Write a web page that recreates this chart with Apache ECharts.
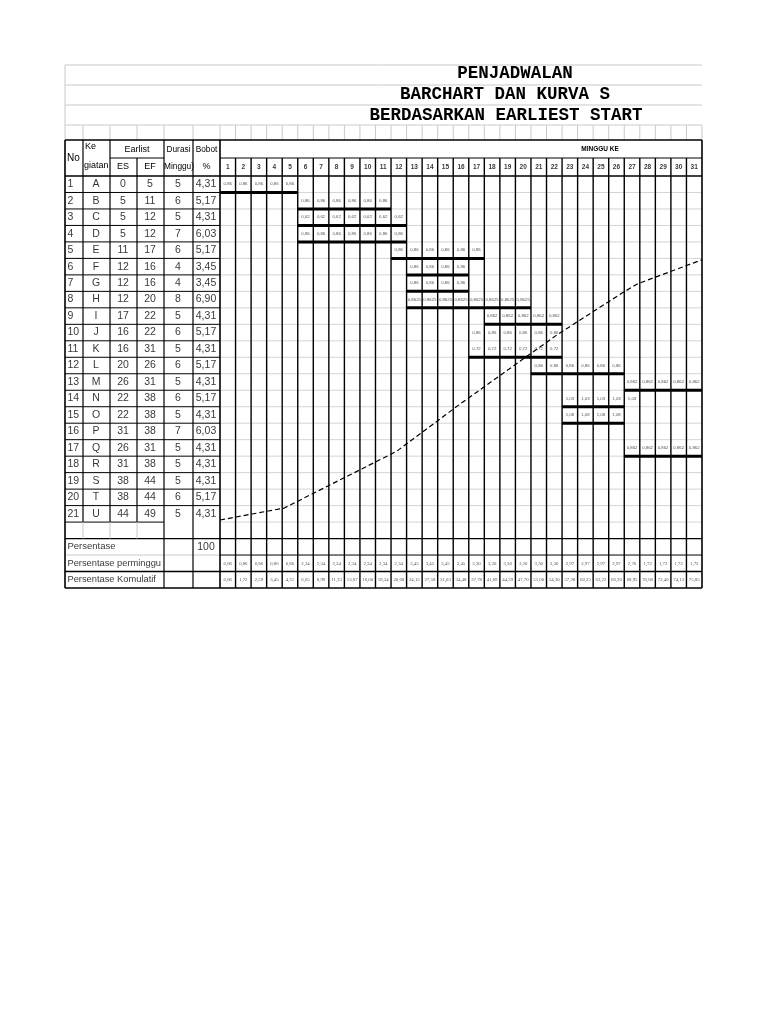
<!DOCTYPE html>
<html>
<head>
<meta charset="utf-8">
<script src="https://cdn.jsdelivr.net/npm/echarts@6/dist/echarts.min.js"></script>
<style>html,body{margin:0;padding:0;background:#fff}#c{width:768px;height:1024px}</style>
</head>
<body>
<div id="c"></div>
<script>
// ---------------- DATA ----------------
const weeks = ['1','2','3','4','5','6','7','8','9','10','11','12','13','14','15','16','17','18','19','20','21','22','23','24','25','26','27','28','29','30','31'];
const noList = ['1','2','3','4','5','6','7','8','9','10','11','12','13','14','15','16','17','18','19','20','21'];
const kegiatan = ['A','B','C','D','E','F','G','H','I','J','K','L','M','N','O','P','Q','R','S','T','U'];
const esList = [0,5,5,5,11,12,12,12,17,16,16,20,26,22,22,31,26,31,38,38,44];
const efList = [5,11,12,12,17,16,16,20,22,22,31,26,31,38,38,38,31,38,44,44,49];
const durasiList = [5,6,5,7,6,4,4,8,5,6,5,6,5,6,5,7,5,5,5,6,5];
const bobotList = ['4,31','5,17','4,31','6,03','5,17','3,45','3,45','6,90','4,31','5,17','4,31','5,17','4,31','5,17','4,31','6,03','4,31','4,31','4,31','5,17','4,31'];
const totalBobot = '100';
// bar (thick line) week ranges per activity
const barFrom = [1,6,6,6,12,13,13,13,18,null,17,21,27,23,23,null,27,null,null,null,null];
const barTo   = [5,11,12,12,17,16,16,20,22,null,22,26,31,26,26,null,31,null,null,null,null];
// weekly weight text inside the cells
const cellFrom = [1,6,6,6,12,13,13,13,18,17,17,21,27,23,23,null,27,null,null,null,null];
const cellTo   = [5,11,12,12,17,16,16,20,22,22,22,26,31,27,26,null,31,null,null,null,null];
const cellText = ['0,86','0,86','0,62','0,86','0,86','0,86','0,86','0,8625','0,862','0,86','0,72','0,86','0,862','1,03','1,08','','0,862','','','',''];
// percentages per week and cumulative
const perminggu = [0.86,0.86,0.86,0.86,0.86,2.34,2.34,2.34,2.34,2.34,2.34,2.34,3.45,3.45,3.45,3.45,3.30,3.30,3.30,3.30,3.30,3.30,2.97,2.97,2.97,2.97,2.76,1.72,1.72,1.72,1.72];
const kumulatif = [0.86,1.72,2.59,3.45,4.31,6.65,8.99,11.33,13.67,16.00,18.34,20.68,24.13,27.58,31.03,34.48,37.78,41.09,44.39,47.70,51.00,54.30,57.28,60.25,63.22,66.20,68.95,70.68,72.40,74.13,75.85];

// ---------------- LAYOUT ----------------
const L = 65, R = 702, WL = 220;
const TOP_T = 65, HDR1 = 140, HDR2 = 158, ROW0 = 176, BOT = 588;
const NROWS = 25;
const rowH = (BOT - ROW0) / NROWS;
const weekW = (R - WL) / 31;
const colEdges = [65, 83, 110, 137, 164, 193, 220];
const colPos = {no: 2, keg: 31, es: 58, ef: 85, dur: 113, bob: 141}; // within left grid (0..155)
const rowKeys = kegiatan.concat(['_blank', '_pers', '_pm', '_pk']);
const fmt = v => v.toFixed(2).replace('.', ',');
const SANS = '"Liberation Sans", Arial, sans-serif';
const SERIF = '"Liberation Serif", "Times New Roman", serif';

// ---------------- STRUCTURAL LINES ----------------
const G = [];
const gray = '#c9c9c9';
function ln(x1, y1, x2, y2, c, w) {
  G.push({type: 'line', silent: true, z: 0, shape: {x1, y1, x2, y2}, style: {stroke: c, lineWidth: w}});
}
[65, 85, 105, 125].forEach(y => ln(L, y, R, y, gray, 1));
ln(L, TOP_T, L, HDR1, gray, 1);
colEdges.slice(1).forEach(x => ln(x, 125, x, HDR1, gray, 1));
for (let k = 1; k <= 31; k++) ln(WL + k * weekW, 125, WL + k * weekW, HDR1, gray, 1);

ln(L, HDR1, R, HDR1, '#000', 1.5);
ln(110, HDR2, 164, HDR2, '#000', 1);
ln(WL, HDR2, R, HDR2, '#000', 1);
ln(L, ROW0, R, ROW0, '#000', 1.5);
const yRow = i => ROW0 + i * rowH;
for (let i = 1; i <= 20; i++) {
  ln(WL, yRow(i), R, yRow(i), '#d4d4d4', 1);
  ln(L, yRow(i), WL, yRow(i), '#000', 1);
}
ln(WL, yRow(21), R, yRow(21), '#d4d4d4', 1);
ln(L, yRow(21), 164, yRow(21), '#000', 1);
ln(L, yRow(22), R, yRow(22), '#000', 1.3);
ln(L, yRow(23), WL, yRow(23), gray, 1);
ln(WL, yRow(23), R, yRow(23), '#000', 1);
ln(L, yRow(24), R, yRow(24), '#000', 1.3);
ln(L, yRow(25), R, yRow(25), '#000', 1.6);
// verticals
ln(L, HDR1, L, BOT, '#000', 1.6);
[83, 110].forEach(x => { ln(x, HDR1, x, yRow(21), '#000', 1.2); ln(x, yRow(21), x, yRow(22), gray, 1); });
ln(137, HDR2, 137, yRow(21), '#000', 1.2); ln(137, yRow(21), 137, yRow(22), gray, 1);
[164, 193].forEach(x => ln(x, HDR1, x, BOT, '#000', 1.2));
ln(WL, HDR1, WL, BOT, '#000', 1.6);
for (let k = 1; k <= 30; k++) ln(WL + k * weekW, HDR2, WL + k * weekW, BOT, '#000', 1.4);
ln(R, HDR1, R, BOT, '#000', 1.6);

// ---------------- STATIC TEXT ----------------
function tx(text, x, y, font, align) {
  G.push({type: 'text', silent: true, z: 3, x: x, y: y,
    style: {text: text, font: font, fill: '#000', textAlign: align || 'center', align: align || 'center',
            textVerticalAlign: 'middle', verticalAlign: 'middle'}});
}
const TF = 'bold 17.5px "Liberation Mono", "Courier New", monospace';
tx('PENJADWALAN', 515, 74, TF);
tx('BARCHART DAN KURVA S', 505, 95, TF);
tx('BERDASARKAN EARLIEST START', 506, 115.5, TF);
const HF = '9px ' + SANS;
const HS = '8.3px ' + SANS;
tx('No', 67, 158, '10px ' + SANS, 'left');
tx('Ke', 85, 147, HF, 'left');
tx('giatan', 84, 166, HF, 'left');
tx('Earlist', 137, 150, HF);
tx('ES', 123, 167, HF);
tx('EF', 150, 167, HF);
tx('Durasi', 178.5, 150, HS);
tx('Minggu)', 179, 167, HS);
tx('Bobot', 206.5, 150, HS);
tx('%', 206.5, 167, HF);
tx('MINGGU KE', 600, 149, 'bold 6.5px ' + SANS);

// ---------------- SERIES DATA ----------------
const barData = [];
kegiatan.forEach((k, i) => { if (barFrom[i] != null) barData.push([barFrom[i] - 1, barTo[i] - 1, i]); });
const cellData = [];
kegiatan.forEach((k, i) => {
  if (cellFrom[i] != null) for (let w = cellFrom[i]; w <= cellTo[i]; w++) cellData.push([w - 1, i, cellText[i]]);
});
const pctData = [];
weeks.forEach((w, j) => {
  pctData.push([j, 23, fmt(perminggu[j])]);
  pctData.push([j, 24, fmt(kumulatif[j])]);
});
const leftData = [];
const L_LEFT = {position: 'right', distance: 0};
kegiatan.forEach((k, i) => {
  leftData.push({value: [colPos.no, i, noList[i]], label: L_LEFT});
  leftData.push({value: [colPos.keg, i, k]});
  leftData.push({value: [colPos.es, i, String(esList[i])]});
  leftData.push({value: [colPos.ef, i, String(efList[i])]});
  leftData.push({value: [colPos.dur, i, String(durasiList[i])]});
  leftData.push({value: [colPos.bob, i, bobotList[i]]});
});
leftData.push({value: [colPos.no, 22, 'Persentase'], label: Object.assign({fontSize: 9.5}, L_LEFT)});
leftData.push({value: [colPos.bob, 22, totalBobot]});
leftData.push({value: [colPos.no, 23, 'Persentase perminggu'], label: Object.assign({fontSize: 9.3}, L_LEFT)});
leftData.push({value: [colPos.no, 24, 'Persentase Komulatif'], label: Object.assign({fontSize: 9.3}, L_LEFT)});
const weekNumData = weeks.map((w, j) => [j, 0, w]);

const labelOnly = {symbol: 'rect', symbolSize: 1, itemStyle: {color: 'rgba(0,0,0,0)'}, silent: true, animation: false};

const chart = echarts.init(document.getElementById('c'), null, {renderer: 'canvas'});
chart.setOption({
  backgroundColor: '#fff',
  animation: false,
  grid: [
    {left: WL, top: ROW0, width: R - WL, height: BOT - ROW0},
    {left: WL, top: ROW0, width: R - WL, height: 347},
    {left: L, top: ROW0, width: WL - L, height: BOT - ROW0},
    {left: WL, top: HDR2, width: R - WL, height: ROW0 - HDR2}
  ],
  xAxis: [
    {gridIndex: 0, type: 'category', data: weeks, show: false},
    {gridIndex: 1, type: 'category', data: weeks, boundaryGap: false, show: false},
    {gridIndex: 2, type: 'value', min: 0, max: WL - L, show: false},
    {gridIndex: 3, type: 'category', data: weeks, show: false}
  ],
  yAxis: [
    {gridIndex: 0, type: 'category', data: rowKeys, inverse: true, show: false},
    {gridIndex: 1, type: 'value', min: 0, max: 100, show: false},
    {gridIndex: 2, type: 'category', data: rowKeys, inverse: true, show: false},
    {gridIndex: 3, type: 'category', data: ['n'], show: false}
  ],
  graphic: {elements: G},
  series: [
    {
      type: 'custom', xAxisIndex: 0, yAxisIndex: 0, z: 4, silent: true,
      encode: {x: [0, 1], y: 2},
      data: barData,
      renderItem: function (params, api) {
        const s = api.value(0), e = api.value(1), r = api.value(2);
        const p1 = api.coord([s, r]), p2 = api.coord([e, r]);
        const sz = api.size([1, 1]);
        const y = p1[1] + sz[1] / 2;
        return {type: 'line', shape: {x1: p1[0] - sz[0] / 2, y1: y, x2: p2[0] + sz[0] / 2, y2: y},
                style: {stroke: '#000', lineWidth: 3}};
      }
    },
    Object.assign({
      type: 'scatter', xAxisIndex: 0, yAxisIndex: 0, z: 3, data: cellData,
      label: {show: true, position: 'inside', formatter: p => p.value[2], fontSize: 4.3, fontFamily: SANS, color: '#222'}
    }, labelOnly),
    Object.assign({
      type: 'scatter', xAxisIndex: 0, yAxisIndex: 0, z: 3, data: pctData,
      label: {show: true, position: 'inside', formatter: p => p.value[2], fontSize: 4.8, fontFamily: SERIF, color: '#222'}
    }, labelOnly),
    Object.assign({
      type: 'scatter', xAxisIndex: 2, yAxisIndex: 2, z: 3, data: leftData,
      label: {show: true, position: 'inside', formatter: p => p.value[2], fontSize: 10.5, fontFamily: SANS, color: '#000'}
    }, labelOnly),
    Object.assign({
      type: 'scatter', xAxisIndex: 3, yAxisIndex: 3, z: 3, data: weekNumData,
      label: {show: true, position: 'inside', formatter: p => p.value[2], fontSize: 6.5, fontWeight: 'bold', fontFamily: SANS, color: '#000'}
    }, labelOnly),
    {
      type: 'line', xAxisIndex: 1, yAxisIndex: 1, z: 5, data: kumulatif,
      showSymbol: false, symbol: 'none', silent: true, animation: false,
      lineStyle: {color: '#000', width: 1.2, type: [5, 3]}
    }
  ]
});
</script>
</body>
</html>
